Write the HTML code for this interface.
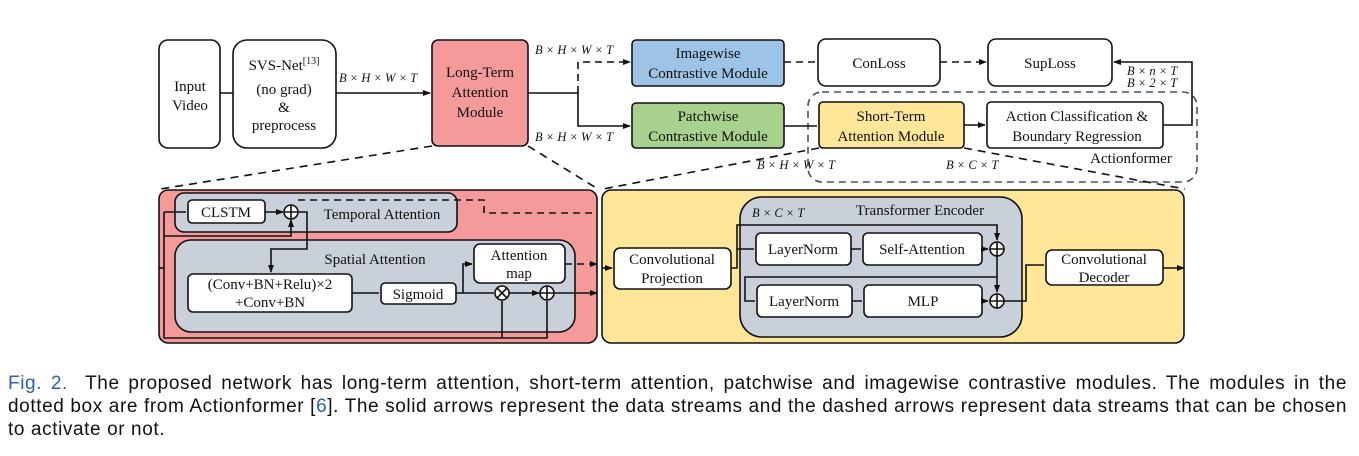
<!DOCTYPE html>
<html><head><meta charset="utf-8"><style>
body{margin:0;background:#fff;width:1359px;height:456px;overflow:hidden}
svg{position:absolute;left:0;top:0}
.t{font-family:"Liberation Serif",serif;font-size:15px;fill:#111;text-anchor:middle}
.m{font-family:"Liberation Serif",serif;font-style:italic;font-size:12.5px;fill:#111}
.cap{position:absolute;left:8px;top:372px;font-family:"Liberation Sans",sans-serif;font-size:19px;letter-spacing:0.6px;line-height:23px;color:#111;width:1339px}
.cap div{white-space:nowrap}
.j{text-align:justify;text-align-last:justify}
</style></head><body>
<svg width="1359" height="456" viewBox="0 0 1359 456">
<defs><marker id="a" markerWidth="8" markerHeight="8" refX="7" refY="4" orient="auto" markerUnits="userSpaceOnUse"><path d="M0,1 L8,4 L0,7z" fill="#111"/></marker></defs>
<g stroke="#111" stroke-width="1.6" fill="none">
<rect x="159" y="40" width="61" height="108" rx="9" fill="#fff"/>
<rect x="233" y="40" width="103" height="108" rx="14" fill="#fff"/>
<rect x="432" y="40" width="96" height="106" rx="6" fill="#f59a9a"/>
<rect x="632" y="40" width="152" height="46" rx="4" fill="#9dc3e6"/>
<rect x="632" y="103" width="152" height="45" rx="4" fill="#a9d18e"/>
<rect x="818" y="39" width="122" height="47" rx="8" fill="#fff"/>
<rect x="988" y="39" width="124" height="47" rx="8" fill="#fff"/>
<rect x="819" y="102" width="145" height="46" rx="4" fill="#ffe699"/>
<rect x="987" y="102" width="176" height="46" rx="4" fill="#fff"/>
<rect x="808" y="92" width="389" height="90" rx="14" stroke="#44546a" stroke-dasharray="7,5"/>
<path d="M220 93H233 M336 93H430" marker-end="url(#a)"/>
<path d="M528 93H578V126H630" marker-end="url(#a)"/>
<path d="M578 93V62H630" stroke-dasharray="7,5" marker-end="url(#a)"/>
<path d="M784 62H816 M940 62H986" stroke-dasharray="7,5" marker-end="url(#a)"/>
<path d="M784 126H817 M964 125H985" marker-end="url(#a)"/>
<path d="M1163 125H1192V62H1114" marker-end="url(#a)"/>
<path d="M432 146L160 189 M528 146L598 189 M819 148L603 189 M964 148L1185 189" stroke-dasharray="8,6"/>
<rect x="159" y="190" width="438" height="153" rx="9" fill="#f59a9a"/>
<rect x="175" y="193" width="282" height="39" rx="9" fill="#c9d0da"/>
<rect x="175" y="240" width="400" height="92" rx="16" fill="#c9d0da"/>
<rect x="188" y="200" width="77" height="23" rx="4" fill="#fff"/>
<rect x="188" y="274" width="164" height="38" rx="5" fill="#fff"/>
<rect x="381" y="283" width="75" height="21" rx="4" fill="#fff"/>
<rect x="474" y="244" width="91" height="39" rx="6" fill="#fff"/>
<circle cx="291" cy="212" r="7" fill="#fff"/><path d="M284 212H298M291 205V219"/>
<circle cx="502" cy="293" r="7" fill="#fff"/><path d="M497 288L507 298M507 288L497 298"/>
<circle cx="547" cy="293" r="7" fill="#fff"/><path d="M540 293H554M547 286V300"/>
<path d="M159 268H164"/>
<path d="M164 212V338H547V301 M502 338V301" />
<path d="M164 212H186 M265 212H283" marker-end="url(#a)"/>
<path d="M164 236H291V220" marker-end="url(#a)"/>
<path d="M298 212H307V249H271V272" marker-end="url(#a)"/>
<path d="M352 293H379 M456 293H494 M509 293H539" marker-end="url(#a)"/>
<path d="M463 293V264H472" marker-end="url(#a)"/>
<path d="M554 293H597" marker-end="url(#a)"/>
<path d="M298 200H484V213H597 M565 264H597" stroke-dasharray="7,5" marker-end="url(#a)"/>
<rect x="602" y="190" width="582" height="153" rx="9" fill="#ffe699"/>
<rect x="740" y="197" width="282" height="140" rx="22" fill="#c9d0da"/>
<rect x="614" y="248" width="117" height="41" rx="6" fill="#fff"/>
<rect x="756" y="233" width="95" height="32" rx="5" fill="#fff"/>
<rect x="863" y="233" width="119" height="32" rx="5" fill="#fff"/>
<rect x="757" y="285" width="95" height="32" rx="5" fill="#fff"/>
<rect x="864" y="285" width="118" height="32" rx="5" fill="#fff"/>
<rect x="1046" y="250" width="117" height="35" rx="6" fill="#fff"/>
<circle cx="997" cy="249" r="7" fill="#fff"/><path d="M990 249H1004M997 242V256"/>
<circle cx="997" cy="301" r="7" fill="#fff"/><path d="M990 301H1004M997 294V308"/>
<path d="M602 268H612" marker-end="url(#a)"/>
<path d="M731 268H737V249H754 M851 249H861 M982 249H988" marker-end="url(#a)"/>
<path d="M737 249V225H997V240" marker-end="url(#a)"/>
<path d="M997 256V292" marker-end="url(#a)"/>
<path d="M997 277H745V301H755 M852 301H862 M982 301H988" marker-end="url(#a)"/>
<path d="M1004 301H1026V265H1044 M1163 268H1184" marker-end="url(#a)"/>
</g>
<g class="t">
<text x="190" y="91">Input</text><text x="190" y="110">Video</text>
<text x="284" y="70">SVS-Net<tspan font-size="10" dy="-6">[13]</tspan></text>
<text x="284" y="94">(no grad)</text><text x="284" y="112">&amp;</text><text x="284" y="130">preprocess</text>
<text x="480" y="77">Long-Term</text><text x="480" y="97">Attention</text><text x="480" y="117">Module</text>
<text x="708" y="58">Imagewise</text><text x="708" y="78">Contrastive Module</text>
<text x="708" y="121">Patchwise</text><text x="708" y="141">Contrastive Module</text>
<text x="879" y="68">ConLoss</text><text x="1050" y="68">SupLoss</text>
<text x="891" y="121">Short-Term</text><text x="891" y="141">Attention Module</text>
<text x="1077" y="121">Action Classification &amp;</text><text x="1077" y="141">Boundary Regression</text>
<text x="1131" y="163">Actionformer</text>
<text x="226" y="217">CLSTM</text>
<text x="382" y="219">Temporal Attention</text>
<text x="375" y="264">Spatial Attention</text>
<text x="270" y="289">(Conv+BN+Relu)×2</text><text x="270" y="307">+Conv+BN</text>
<text x="418" y="299">Sigmoid</text>
<text x="519" y="260">Attention</text><text x="519" y="278">map</text>
<text x="672" y="264">Convolutional</text><text x="672" y="283">Projection</text>
<text x="920" y="215">Transformer Encoder</text>
<text x="803" y="254">LayerNorm</text><text x="922" y="254">Self-Attention</text>
<text x="804" y="306">LayerNorm</text><text x="923" y="306">MLP</text>
<text x="1104" y="264">Convolutional</text><text x="1104" y="282">Decoder</text>
</g>
<g class="m">
<text x="339" y="82">B × H × W × T</text>
<text x="535" y="54">B × H × W × T</text>
<text x="535" y="141">B × H × W × T</text>
<text x="757" y="169">B × H × W × T</text>
<text x="946" y="169">B × C × T</text>
<text x="1127" y="75">B × n × T</text>
<text x="1127" y="87">B × 2 × T</text>
<text x="752" y="217">B × C × T</text>
</g>
</svg>
<div class="cap">
<div class="j"><span style="color:#2b5fb0">Fig. 2.</span>&nbsp; The proposed network has long-term attention, short-term attention, patchwise and imagewise contrastive modules. The modules in the</div>
<div class="j">dotted box are from Actionformer [<span style="color:#2b5fb0">6</span>]. The solid arrows represent the data streams and the dashed arrows represent data streams that can be chosen</div>
<div>to activate or not.</div>
</div>
</body></html>
